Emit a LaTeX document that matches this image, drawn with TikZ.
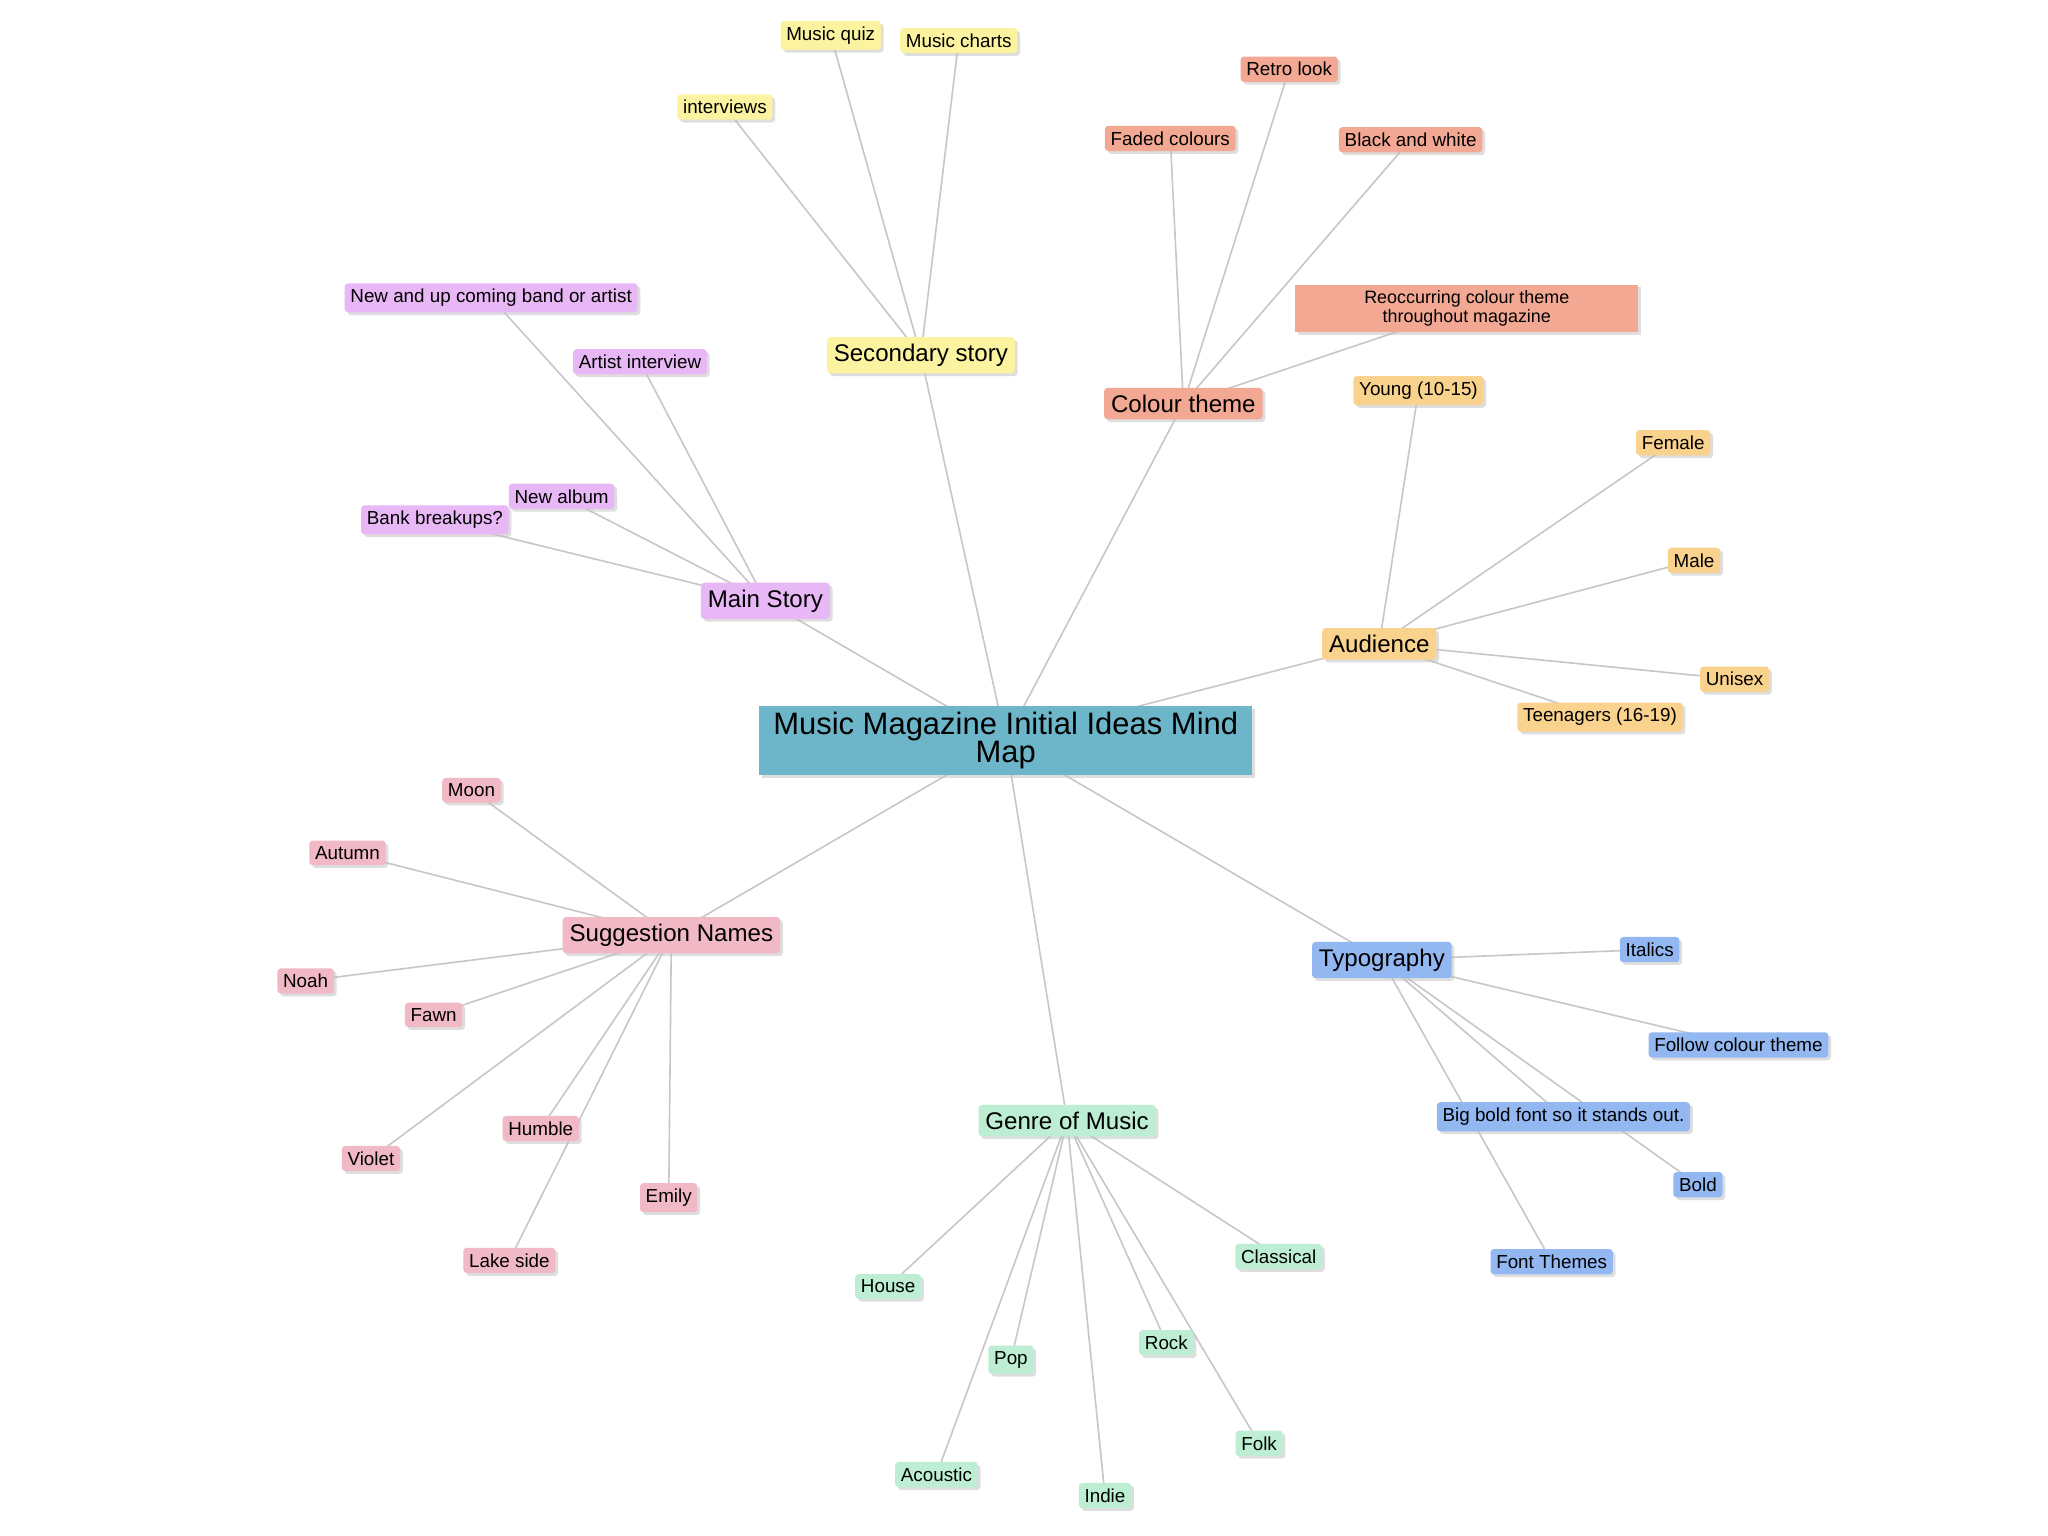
\documentclass[tikz,border=0pt]{standalone}
\usepackage{fontspec}
\setmainfont{Liberation Sans}
\usetikzlibrary{backgrounds,shadows}
\definecolor{cmain}{HTML}{6DB6C9}
\definecolor{cyel}{HTML}{FBF3A0}
\definecolor{csal}{HTML}{F2A893}
\definecolor{cora}{HTML}{F9D28E}
\definecolor{cpur}{HTML}{E8B8F6}
\definecolor{cpink}{HTML}{F1B8C6}
\definecolor{cgrn}{HTML}{BDEED4}
\definecolor{cblu}{HTML}{93B8F1}
\tikzset{
  idea/.style={rounded corners=1.5pt, inner sep=2.5pt, font=\fontsize{8.2}{9}\selectfont,
    drop shadow={shadow xshift=1.2pt, shadow yshift=-1.2pt, fill=black!25}},
  topic/.style={idea, font=\fontsize{10.5}{12}\selectfont, inner sep=3pt},
  link/.style={draw=black!22, line width=0.7pt}
}
\begin{document}
\begin{tikzpicture}[x={(0.02cm,0)}, y={(0,-0.02cm)}]
\useasboundingbox (0,0) rectangle (1568,1176);
% centre
\node[idea, fill=cmain, font=\fontsize{13.5}{13.5}\selectfont, minimum width=7.55cm, minimum height=1.05cm, align=center, rounded corners=0pt] (map) at (770,567) {Music Magazine Initial Ideas Mind\\[-1pt]Map};
% branches
\node[topic, fill=cyel] (second) at (705,272) {Secondary story};
\node[topic, fill=csal] (colour) at (906,309) {Colour theme};
\node[topic, fill=cora] (aud) at (1056,493) {Audience};
\node[topic, fill=cpur] (story) at (586,460) {Main Story};
\node[topic, fill=cpink] (names) at (514,716) {Suggestion Names};
\node[topic, fill=cgrn] (genre) at (817,858) {Genre of Music};
\node[topic, fill=cblu] (typo) at (1058,735) {Typography};
% leaves
\foreach \n/\p/\t/\c in {
  s1/{555,82}/interviews/cyel, s2/{636,27}/Music quiz/cyel, s3/{734,31}/Music charts/cyel,
  c1/{987,53}/Retro look/csal, c2/{896,106}/Faded colours/csal, c3/{1080,107}/Black and white/csal,
  a1/{1086,299}/Young (10-15)/cora, a2/{1281,339}/Female/cora, a3/{1297,429}/Male/cora,
  a4/{1328,520}/Unisex/cora, a5/{1225,549}/Teenagers (16-19)/cora,
  m1/{376,228}/New and up coming band or artist/cpur, m2/{490,277}/Artist interview/cpur,
  m3/{430,380}/New album/cpur, m4/{333,398}/Bank breakups?/cpur,
  n1/{361,605}/Moon/cpink, n2/{266,653}/Autumn/cpink, n3/{234,751}/Noah/cpink,
  n4/{332,777}/Fawn/cpink, n5/{284,887}/Violet/cpink, n6/{414,864}/Humble/cpink,
  n7/{390,965}/Lake side/cpink, n8/{512,917}/Emily/cpink,
  g1/{680,985}/House/cgrn, g2/{774,1041}/Pop/cgrn, g3/{717,1129}/Acoustic/cgrn,
  g4/{846,1145}/Indie/cgrn, g5/{893,1028}/Rock/cgrn, g6/{964,1105}/Folk/cgrn,
  g7/{979,962}/Classical/cgrn,
  t1/{1263,727}/Italics/cblu, t2/{1331,800}/Follow colour theme/cblu,
  t3/{1197,855}/Big bold font so it stands out./cblu, t4/{1300,907}/Bold/cblu,
  t5/{1188,966}/Font Themes/cblu}
  \node[idea, fill=\c] (\n) at (\p) {\t};
\node[idea, fill=csal, align=center, minimum width=5.25cm, font=\fontsize{7.8}{8.3}\selectfont, rounded corners=0pt] (c4) at (1123,236) {Reoccurring colour theme\\throughout magazine};
% connectors
\begin{scope}[on background layer]
\fill[white] (0,0) rectangle (1568,1176);
\foreach \a/\b in {map/second, map/colour, map/aud, map/story, map/names, map/genre, map/typo,
  second/s1, second/s2, second/s3, colour/c1, colour/c2, colour/c3, colour/c4,
  aud/a1, aud/a2, aud/a3, aud/a4, aud/a5, story/m1, story/m2, story/m3, story/m4,
  names/n1, names/n2, names/n3, names/n4, names/n5, names/n6, names/n7, names/n8,
  genre/g1, genre/g2, genre/g3, genre/g4, genre/g5, genre/g6, genre/g7,
  typo/t1, typo/t2, typo/t3, typo/t4, typo/t5}
  \draw[link] (\a.center) -- (\b.center);
\end{scope}
\end{tikzpicture}
\end{document}
